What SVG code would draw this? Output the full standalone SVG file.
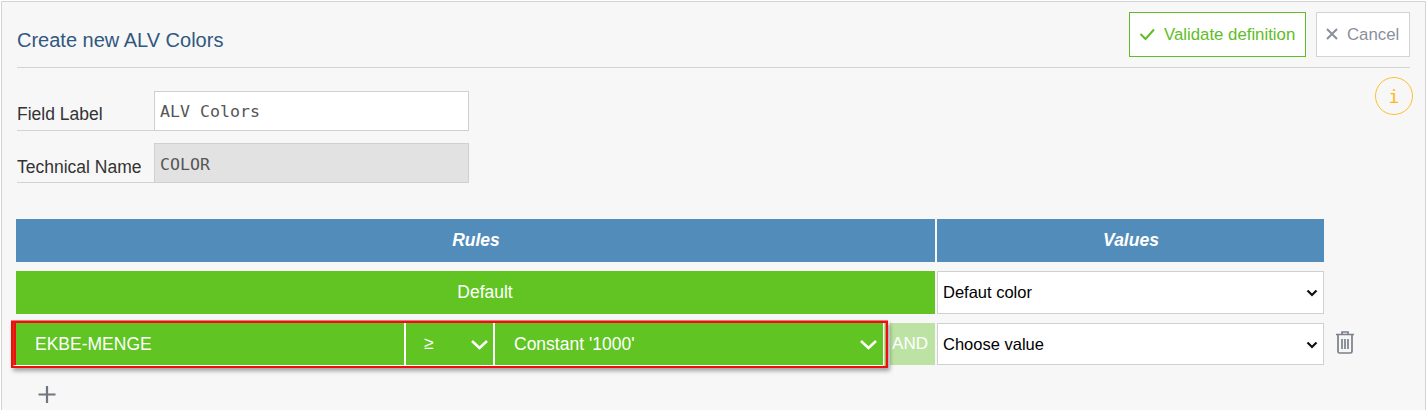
<svg xmlns="http://www.w3.org/2000/svg" width="1427" height="410" viewBox="0 0 1427 410">
<defs>
<filter id="sh" x="-2%" y="-20%" width="104%" height="150%"><feDropShadow dx="2" dy="3" stdDeviation="2" flood-color="#000" flood-opacity=".35"/></filter>
</defs>
<style>
text{font-family:"Liberation Sans",Arial,sans-serif;font-size:17.500px}
.lbl{fill:#333}
.mono{font-family:"DejaVu Sans Mono","Liberation Mono",monospace;font-size:16.600px;fill:#555}
.w{fill:#fff}
.hdr{fill:#fff;font-weight:bold;font-style:italic;text-anchor:middle}
.box{stroke:#d0d0d0;stroke-width:1}
.sel{fill:#000;font-size:16.500px}
.btn{font-size:16.800px}
.chev{fill:none;stroke:#fff;stroke-width:2.500}
.bchev{fill:none;stroke:#111;stroke-width:2.200}
.g{fill:#61c422}
.rule{stroke:#d3d3d3;stroke-width:1}
</style>
<rect width="1427" height="410" fill="#fff"/>
<path d="M1.500 410V1.500H1425.500V410" fill="#f7f7f7" stroke="#d3d3d3"/>
<g id="title"><text x="17" y="47" style="font-size:20px" fill="#31587f">Create new ALV Colors</text><line class="rule" x1="17" y1="67.500" x2="1410" y2="67.500"/></g>
<g id="validate"><rect x="1129.500" y="12.500" width="176" height="44" fill="#fff" stroke="#61bd26"/><path d="M1140.500 34l5 5 8.500-9.500" fill="none" stroke="#61bd26" stroke-width="2"/><text class="btn" x="1164" y="40" fill="#61bd26">Validate definition</text></g>
<g id="cancel"><rect x="1316.500" y="12.500" width="93" height="44" fill="#fff" stroke="#d3d3d3"/><path d="M1327 29l10 10M1337 29l-10 10" stroke="#8a8f9c" stroke-width="2"/><text class="btn" x="1347" y="40" fill="#8a8f9c">Cancel</text></g>
<g id="info"><circle cx="1394" cy="96" r="18.500" fill="none" stroke="#fdc02f" stroke-width="1"/><text x="1394" y="103" text-anchor="middle" style="font-family:'DejaVu Sans Mono',monospace;font-size:18px" fill="#fdb71a">i</text></g>
<g id="field-label"><text class="lbl" x="17" y="120">Field Label</text><line class="rule" x1="17" y1="130.500" x2="154" y2="130.500"/><rect class="box" x="154.500" y="91.500" width="314" height="39" fill="#fff"/><text class="mono" x="160" y="117">ALV Colors</text></g>
<g id="technical-name"><text class="lbl" x="17" y="173">Technical Name</text><line class="rule" x1="17" y1="182.500" x2="154" y2="182.500"/><rect class="box" x="154.500" y="143.500" width="314" height="39" fill="#e2e2e2"/><text class="mono" x="160" y="170">COLOR</text></g>
<g id="rules-header"><rect x="16" y="219" width="919" height="43" fill="#528cba"/><text class="hdr" x="476" y="246">Rules</text></g>
<g id="values-header"><rect x="937" y="219" width="387" height="43" fill="#528cba"/><text class="hdr" x="1131" y="246">Values</text></g>
<g id="default"><rect class="g" x="16" y="271" width="919" height="43"/><text class="w" x="485" y="298" text-anchor="middle">Default</text></g>
<g id="default-value"><rect class="box" x="937.500" y="271.500" width="386" height="42" fill="#fff"/><text class="sel" x="943" y="298">Defaut color</text><path class="bchev" d="M1307.500 290.500l4.500 4.500 4.500-4.500"/></g>
<g id="and"><rect x="890" y="323" width="45" height="42" fill="#bde3a4"/><text class="w" x="910" y="349" text-anchor="middle" style="font-size:17px">AND</text></g>
<g id="rule-row" filter="url(#sh)"><rect x="12.250" y="321.750" width="874.500" height="45" fill="#61c422" stroke="#f0080f" stroke-width="2.500"/><path d="M13.500 365.500H883.500V323" fill="none" stroke="#fff" stroke-width="1"/><path d="M13.500 323h2.500v42h-2.500z" fill="#f0080f"/><path d="M884 323h1.500v43H884z" fill="#b9dfa0"/><path d="M405 323v42M494 323v42" stroke="#fff" stroke-width="2"/></g>
<g id="rule-field"><text class="w" x="35" y="350">EKBE-MENGE</text></g>
<g id="rule-op"><text class="w" x="424" y="349">≥</text><path class="chev" d="M472 341l7.500 7 7.500-7"/></g>
<g id="rule-const"><text class="w" x="514" y="350">Constant '1000'</text><path class="chev" d="M861 341l7.500 7 7.500-7"/></g>
<g id="rule-value"><rect class="box" x="937.500" y="323.500" width="386" height="41" fill="#fff"/><text class="sel" x="943" y="350">Choose value</text><path class="bchev" d="M1307.500 342.500l4.500 4.500 4.500-4.500"/></g>
<g id="trash" fill="none" stroke="#7b808a" stroke-width="1.700"><path d="M1336 334.500h18M1342 334.500v-2.500h6v2.500M1338 335v16.500a1.500 1.500 0 0 0 1.500 1.500h11a1.500 1.500 0 0 0 1.500-1.500V335M1342 339v10M1345 339v10M1348 339v10"/></g>
<g id="add"><path d="M47 386v17M38.500 394.500h17" stroke="#6f7680" stroke-width="2.200"/></g>
</svg>
